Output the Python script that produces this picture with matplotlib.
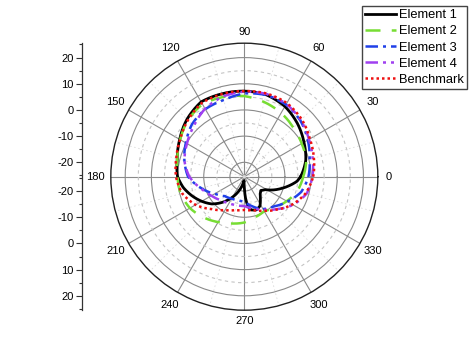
import numpy as np
import matplotlib
matplotlib.use("Agg")
import matplotlib.pyplot as plt

plt.rcParams['font.family'] = ['Liberation Sans', 'DejaVu Sans']

# radiation pattern, dB vs angle (deg)
ang = [0, 15, 30, 45, 60, 75, 90, 105, 120, 135, 150, 165, 180,
       195, 210, 225, 240, 255, 270, 285, 300, 315, 330, 345, 360]

ang1 = [0, 15, 30, 45, 60, 75, 90, 105, 120, 135, 150, 165, 180, 190, 200,
        210, 220, 230, 240, 250, 258, 266, 270, 273, 277, 282, 290, 298,
        305, 312, 320, 328, 335, 342, 348, 355, 360]
elem1 = [-4.0, -1.2, 0.8, 3.2, 5.5, 6.9, 7.2, 7.3, 7.5, 5.5, 3.0, 1.0, 0.0,
         -1.8, -4.2, -6.7, -9.3, -12.8, -16.5, -20.0, -22.5, -24.0, -21.5,
         -17.5, -14.0, -12.5, -12.0, -12.8, -14.8, -16.5, -17.3, -16.2,
         -13.5, -10.8, -8.3, -5.3, -4.0]

elem2 = [-3.0, -1.0, -0.2, 1.0, 2.6, 4.0, 5.3, 6.0, 6.5, 5.0, 2.8, 1.0, 0.0,
         -0.3, -1.5, -3.5, -5.5, -7.0, -8.0, -9.5, -10.3, -9.0, -6.8, -4.5, -3.0]

elem3 = [-1.0, 0.3, 2.5, 4.8, 6.3, 6.8, 6.3, 4.8, 4.3, 2.8, 0.3, -1.8, -4.0,
         -8.5, -12.5, -15.0, -15.8, -16.2, -16.0, -13.8, -11.2, -9.5, -6.5, -3.0, -1.0]

elem4 = [0.5, 1.5, 3.0, 5.0, 6.6, 7.2, 7.0, 6.2, 4.5, 1.8, -0.2, -1.8, -4.5,
         -8.3, -11.0, -12.8, -13.8, -14.2, -14.3, -13.0, -11.0, -8.0, -4.0, -0.8, 0.5]

bench = [0.8, 2.0, 3.4, 5.5, 7.0, 7.4, 7.2, 7.2, 7.0, 5.0, 2.8, 1.4, 0.6,
         -0.9, -4.0, -8.0, -10.8, -12.3, -12.8, -12.3, -10.5, -7.8, -4.3, -1.2, 0.8]

rmin, rmax = -25.5, 25.5
rgrid = [-20, -10, 0, 10, 20]
angle_labels = list(range(0, 360, 30))

fig = plt.figure(figsize=(4.74, 3.62), dpi=100)
ax = fig.add_axes([0.2338, 0.1431, 0.5633, 0.7376], projection='polar')

t = np.deg2rad(ang)
l1, = ax.plot(np.deg2rad(ang1), elem1, color='black', lw=2.0, label='Element 1')
l2, = ax.plot(t, elem2, color='#77dd33', lw=1.8, dashes=(6, 4.5), label='Element 2')
l3, = ax.plot(t, elem3, color='#2040e8', lw=1.8, dashes=(5, 2, 1.2, 2), label='Element 3')
l4, = ax.plot(t, elem4, color='#a040f0', lw=1.8, dashes=(5, 2, 1.2, 2, 1.2, 2), label='Element 4')
l5, = ax.plot(t, bench, color='#ee1111', lw=1.8, dashes=(1, 1.2), label='Benchmark')
# draw segments as arcs in polar space instead of chords
for ln in [l1, l2, l3, l4, l5]:
    ln._path._interpolation_steps = 20
    ln.recache_always()

ax.set_ylim(rmin, rmax)
ax.set_yticks(rgrid)
ax.set_yticks([-15, -5, 5, 15], minor=True)
ax.set_yticklabels([])
ax.tick_params(axis='y', which='both', length=0)

ax.set_xticks(np.deg2rad(angle_labels))
ax.set_xticklabels([])
ax.set_xticks(np.deg2rad(np.arange(15, 360, 30)), minor=True)
ax.tick_params(axis='x', which='both', direction='in')
ax.tick_params(axis='x', which='minor', length=4, width=0.8, color='#333333')

ax.grid(True, which='major', color='#8a8a8a', lw=0.8, ls='-')
ax.yaxis.grid(True, which='minor', color='#c4c4c4', lw=0.8, ls=(0, (3, 3)))
ax.xaxis.grid(True, which='minor', color='#dcdcdc', lw=0.6, ls=(0, (2, 3)))
ax.spines['polar'].set_color('#222222')
ax.spines['polar'].set_linewidth(1.0)

# angle labels just outside the rim
for a in angle_labels:
    if a in (0, 90, 270):
        rr = 29.6
    else:
        rr = 31.2
    ax.text(np.deg2rad(a), rr, str(a), fontsize=8, ha='center', va='center',
            clip_on=False)

# mirrored radial scale on the left
ax2 = fig.add_axes([0.1736, 0.1431, 0.0005, 0.7376])
span = rmax - rmin
ax2.set_ylim(-span, span)
ax2.set_xticks([])
for s in ['top', 'right', 'bottom']:
    ax2.spines[s].set_visible(False)
ax2.spines['left'].set_color('#333333')
ax2.spines['left'].set_linewidth(0.9)
pos = [r - rmin for r in rgrid] + [-(r - rmin) for r in rgrid]
ax2.set_yticks(pos)
ax2.set_yticklabels([str(r) for r in rgrid] * 2, fontsize=8)
mins = [-25, -15, -5, 5, 15, 25]
ax2.set_yticks([m - rmin for m in mins] + [-(m - rmin) for m in mins], minor=True)
ax2.tick_params(axis='y', which='major', length=4, width=0.8, pad=2, color='#333333')
ax2.tick_params(axis='y', which='minor', length=2.5, width=0.8, color='#333333')

fig.legend(handles=[l1, l2, l3, l4, l5], loc='upper right',
           bbox_to_anchor=(0.986, 0.984), borderaxespad=0, fontsize=9.3,
           fancybox=False, edgecolor='#444444', framealpha=1,
           handlelength=2.35, handletextpad=0.25, labelspacing=0.31,
           borderpad=0.28)

fig.savefig('out.png', dpi=100)
